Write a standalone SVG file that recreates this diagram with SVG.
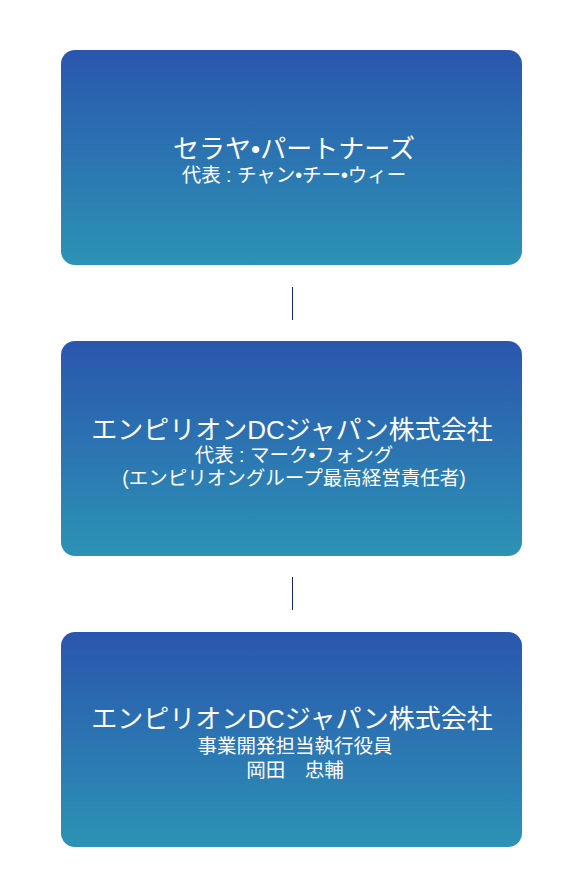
<svg xmlns="http://www.w3.org/2000/svg" width="579" height="889" viewBox="0 0 579 889">
<defs>
<linearGradient id="g" x1="0" y1="0" x2="0" y2="1">
<stop offset="0" stop-color="#2a56ae"/>
<stop offset="1" stop-color="#2c93b5"/>
</linearGradient>
<style>
.box{fill:url(#g)}
.t{font-family:"Liberation Sans","Noto Sans CJK JP",sans-serif;fill:#ffffff;text-anchor:middle}
.h{font-size:26px}
.s{font-size:19.5px}
.c{stroke:#16275c;stroke-width:1;fill:none}
</style>
</defs>
<rect width="579" height="889" fill="#ffffff"/>
<g id="connectors">
<line class="c" x1="292.5" y1="287" x2="292.5" y2="320"/>
<line class="c" x1="292.5" y1="577" x2="292.5" y2="610"/>
</g>
<g id="node1">
<rect class="box" x="61" y="50" width="461" height="215" rx="14"/>
<text class="t h" x="294" y="158">セラヤ•パートナーズ</text>
<text class="t s" x="294" y="182">代表 : チャン•チー•ウィー</text>
</g>
<g id="node2">
<rect class="box" x="61" y="341" width="461" height="215" rx="14"/>
<text class="t h" x="292" y="439">エンピリオンDCジャパン株式会社</text>
<text class="t s" x="294" y="462">代表 : マーク•フォング</text>
<text class="t s" x="294" y="485">(エンピリオングループ最高経営責任者)</text>
</g>
<g id="node3">
<rect class="box" x="61" y="632" width="461" height="215" rx="14"/>
<text class="t h" x="292" y="728">エンピリオンDCジャパン株式会社</text>
<text class="t s" x="295" y="753">事業開発担当執行役員</text>
<text class="t s" x="295" y="777">岡田　忠輔</text>
</g>
</svg>
